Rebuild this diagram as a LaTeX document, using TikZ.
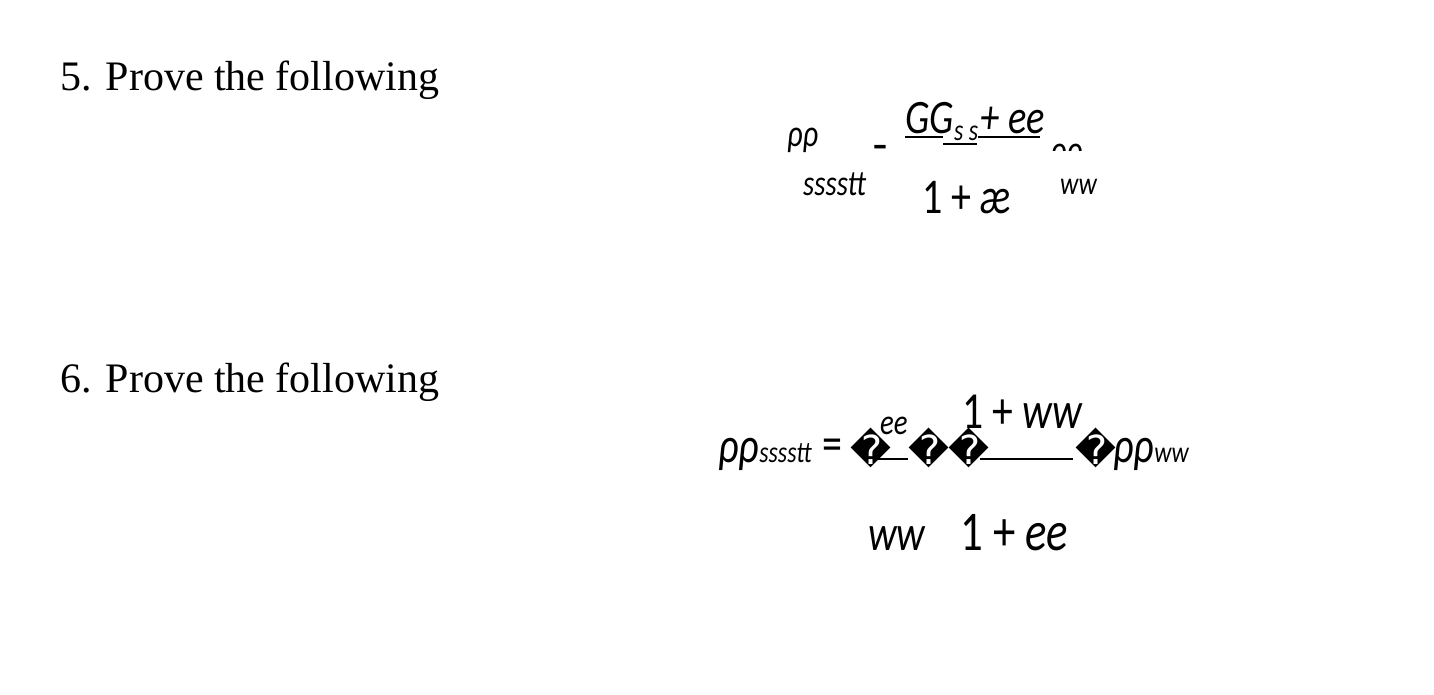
\documentclass[tikz,border=0pt]{standalone}
\usepackage{fontspec}
\setmainfont{Liberation Serif}
\newfontfamily\mfont[FakeStretch=0.8]{Carlito}
\newfontfamily\rfont{DejaVu Sans}
\begin{document}
\begin{tikzpicture}[x=1pt,y=-1pt,
  head/.style={anchor=base west,inner sep=0pt,font=\fontsize{42}{46}\selectfont},
  mi/.style={anchor=base west,inner sep=0pt,font=\mfont\itshape\fontsize{#1}{#1}\selectfont},
  mr/.style={anchor=base west,inner sep=0pt,font=\mfont\fontsize{#1}{#1}\selectfont},
  rep/.style={anchor=base west,inner sep=0pt,font=\rfont\fontsize{40}{40}\selectfont},
  ul/.style={line width=2pt}]
\useasboundingbox (0,0) rectangle (1434,694);
\node[head] (h5) at (60,90) {5. Prove the following};
\node[head] (h6) at (60,392) {6. Prove the following};
% formula 1
\node[mi=38] (a1) at (787,146) {ρρ};
\node[mi=36] (a2) at (803,195) {sssstt};
\node[mr=40] (a3) at (872,158) {\textbf{–}};
\node[mi=48] (a4) at (905,133) {GG};
\node[mi=30,anchor=base west] (a5) at ([yshift=-7pt]a4.base east) {s s};
\node[mi=48] (a6) at (980,133) {+ ee};
\draw[ul] (905,137) -- (943,137);
\draw[ul] (943,144) -- (977,144);
\draw[ul] (978,137) -- (1040,137);
\node[mr=50] (a7) at (922,213) {1 + \itshape æ};
\begin{scope}
\clip (1040,130) rectangle (1100,150);
\node[mi=40] (a8) at (1050,163) {ρρ};
\end{scope}
\node[mi=32] (a9) at (1060,194) {ww};
% formula 2
\node[mi=50] (b1) at (718,462) {ρρ};
\node[mi=30,anchor=base west] (b2) at (b1.base east) {sssstt};
\node[mr=50] (b3) at (822,460) {=};
\node[rep] (r1) at (850,464) {�};
\node[mi=36] (b4) at (880,434) {ee};
\node[rep] (r2) at (908,464) {�};
\node[rep] (r3) at (948,464) {�};
\node[rep] (r4) at (1075,464) {�};
\draw[ul] (875,459) -- (908,459);
\draw[ul] (980,459) -- (1073,459);
\node[mr=52] (b5) at (962,428) {1 + \itshape ww};
\node[mi=50] (b6) at (1113,462) {ρρ};
\node[mi=30,anchor=base west] (b7) at (b6.base east) {ww};
\node[mi=50] (b8) at (868,550) {ww};
\node[mr=56] (b9) at (960,550) {1 + \itshape ee};
\end{tikzpicture}
\end{document}
